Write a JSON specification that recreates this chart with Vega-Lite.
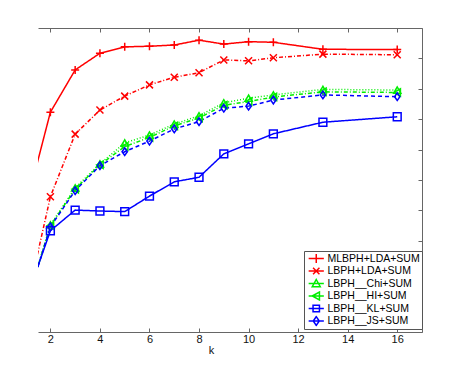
{
  "$schema": "https://vega.github.io/schema/vega-lite/v6.json",
  "width": 384,
  "height": 304,
  "autosize": {"type": "none"},
  "padding": {"left": 38, "top": 28, "right": 52, "bottom": 41},
  "background": "white",
  "config": {"view": {"stroke": null}, "font": "Liberation Sans"},
  "datasets": {
    "d": [
      {"s": "MLBPH+LDA+SUM", "k": 1, "v": 40.8}, {"s": "MLBPH+LDA+SUM", "k": 2, "v": 72.3}, {"s": "MLBPH+LDA+SUM", "k": 3, "v": 86.2}, {"s": "MLBPH+LDA+SUM", "k": 4, "v": 91.7}, {"s": "MLBPH+LDA+SUM", "k": 5, "v": 93.8}, {"s": "MLBPH+LDA+SUM", "k": 6, "v": 94.0}, {"s": "MLBPH+LDA+SUM", "k": 7, "v": 94.4}, {"s": "MLBPH+LDA+SUM", "k": 8, "v": 96.0}, {"s": "MLBPH+LDA+SUM", "k": 9, "v": 94.7}, {"s": "MLBPH+LDA+SUM", "k": 10, "v": 95.5}, {"s": "MLBPH+LDA+SUM", "k": 11, "v": 95.3}, {"s": "MLBPH+LDA+SUM", "k": 13, "v": 93.0}, {"s": "MLBPH+LDA+SUM", "k": 16, "v": 92.9},
      {"s": "LBPH+LDA+SUM", "k": 1, "v": 8.2}, {"s": "LBPH+LDA+SUM", "k": 2, "v": 44.5}, {"s": "LBPH+LDA+SUM", "k": 3, "v": 65.1}, {"s": "LBPH+LDA+SUM", "k": 4, "v": 73.0}, {"s": "LBPH+LDA+SUM", "k": 5, "v": 77.6}, {"s": "LBPH+LDA+SUM", "k": 6, "v": 81.3}, {"s": "LBPH+LDA+SUM", "k": 7, "v": 83.8}, {"s": "LBPH+LDA+SUM", "k": 8, "v": 85.3}, {"s": "LBPH+LDA+SUM", "k": 9, "v": 89.5}, {"s": "LBPH+LDA+SUM", "k": 10, "v": 89.2}, {"s": "LBPH+LDA+SUM", "k": 11, "v": 90.2}, {"s": "LBPH+LDA+SUM", "k": 13, "v": 91.4}, {"s": "LBPH+LDA+SUM", "k": 16, "v": 91.2},
      {"s": "LBPH__Chi+SUM", "k": 1, "v": 8.2}, {"s": "LBPH__Chi+SUM", "k": 2, "v": 35.2}, {"s": "LBPH__Chi+SUM", "k": 3, "v": 47.4}, {"s": "LBPH__Chi+SUM", "k": 4, "v": 55.3}, {"s": "LBPH__Chi+SUM", "k": 5, "v": 62.2}, {"s": "LBPH__Chi+SUM", "k": 6, "v": 64.8}, {"s": "LBPH__Chi+SUM", "k": 7, "v": 68.4}, {"s": "LBPH__Chi+SUM", "k": 8, "v": 71.1}, {"s": "LBPH__Chi+SUM", "k": 9, "v": 75.4}, {"s": "LBPH__Chi+SUM", "k": 10, "v": 76.9}, {"s": "LBPH__Chi+SUM", "k": 11, "v": 78.0}, {"s": "LBPH__Chi+SUM", "k": 13, "v": 79.8}, {"s": "LBPH__Chi+SUM", "k": 16, "v": 79.6},
      {"s": "LBPH__HI+SUM", "k": 1, "v": 8.3}, {"s": "LBPH__HI+SUM", "k": 2, "v": 35.0}, {"s": "LBPH__HI+SUM", "k": 3, "v": 47.0}, {"s": "LBPH__HI+SUM", "k": 4, "v": 55.0}, {"s": "LBPH__HI+SUM", "k": 5, "v": 61.0}, {"s": "LBPH__HI+SUM", "k": 6, "v": 64.0}, {"s": "LBPH__HI+SUM", "k": 7, "v": 67.8}, {"s": "LBPH__HI+SUM", "k": 8, "v": 70.4}, {"s": "LBPH__HI+SUM", "k": 9, "v": 74.6}, {"s": "LBPH__HI+SUM", "k": 10, "v": 75.8}, {"s": "LBPH__HI+SUM", "k": 11, "v": 77.3}, {"s": "LBPH__HI+SUM", "k": 13, "v": 79.0}, {"s": "LBPH__HI+SUM", "k": 16, "v": 78.8},
      {"s": "LBPH__KL+SUM", "k": 1, "v": 10.1}, {"s": "LBPH__KL+SUM", "k": 2, "v": 33.3}, {"s": "LBPH__KL+SUM", "k": 3, "v": 40.1}, {"s": "LBPH__KL+SUM", "k": 4, "v": 39.8}, {"s": "LBPH__KL+SUM", "k": 5, "v": 39.6}, {"s": "LBPH__KL+SUM", "k": 6, "v": 44.7}, {"s": "LBPH__KL+SUM", "k": 7, "v": 49.4}, {"s": "LBPH__KL+SUM", "k": 8, "v": 50.9}, {"s": "LBPH__KL+SUM", "k": 9, "v": 58.6}, {"s": "LBPH__KL+SUM", "k": 10, "v": 61.9}, {"s": "LBPH__KL+SUM", "k": 11, "v": 65.2}, {"s": "LBPH__KL+SUM", "k": 13, "v": 69.0}, {"s": "LBPH__KL+SUM", "k": 16, "v": 70.8},
      {"s": "LBPH__JS+SUM", "k": 1, "v": 8.3}, {"s": "LBPH__JS+SUM", "k": 2, "v": 34.6}, {"s": "LBPH__JS+SUM", "k": 3, "v": 46.5}, {"s": "LBPH__JS+SUM", "k": 4, "v": 54.7}, {"s": "LBPH__JS+SUM", "k": 5, "v": 59.3}, {"s": "LBPH__JS+SUM", "k": 6, "v": 62.8}, {"s": "LBPH__JS+SUM", "k": 7, "v": 66.8}, {"s": "LBPH__JS+SUM", "k": 8, "v": 69.2}, {"s": "LBPH__JS+SUM", "k": 9, "v": 73.6}, {"s": "LBPH__JS+SUM", "k": 10, "v": 74.3}, {"s": "LBPH__JS+SUM", "k": 11, "v": 76.3}, {"s": "LBPH__JS+SUM", "k": 13, "v": 78.0}, {"s": "LBPH__JS+SUM", "k": 16, "v": 77.4}
    ]
  },
  "data": {"name": "d"},
  "encoding": {
    "color": {
      "field": "s", "type": "nominal",
      "scale": {
        "domain": ["MLBPH+LDA+SUM", "LBPH+LDA+SUM", "LBPH__Chi+SUM", "LBPH__HI+SUM", "LBPH__KL+SUM", "LBPH__JS+SUM"],
        "range": ["#ff0000", "#ff0000", "#00ee00", "#00ee00", "#0000ff", "#0000ff"]
      },
      "legend": {
        "title": null,
        "orient": "none",
        "legendX": 266,
        "legendY": 223,
        "padding": 2,
        "symbolOffset": 5,
        "labelOffset": 6,
        "symbolSize": 64,
        "symbolStrokeWidth": 1.5,
        "symbolDash": [],
        "labelFontSize": 10.5,
        "labelFont": "Liberation Sans",
        "labelColor": "#000000",
        "fillColor": "white",
        "strokeColor": "#555555",
        "clipHeight": 11,
        "rowPadding": 1.5,
        "encoding": {
          "symbols": {
            "shape": {"value": {"signal": "['M-1.9,0H1.9M0,-1.1V1.1','M-1.9,0H1.9M-0.8,-0.8L0.8,0.8M-0.8,0.8L0.8,-0.8','M-1.9,0H1.9M0,-1L1,0.8H-1Z','M-1.9,0H1.9M-1,0L0.8,-1V1Z','M-1.9,0H1.9M-0.8,-0.8H0.8V0.8H-0.8Z','M-1.9,0H1.9M0,-1.1L0.75,0L0,1.1L-0.75,0Z'][indexof(['MLBPH+LDA+SUM','LBPH+LDA+SUM','LBPH__Chi+SUM','LBPH__HI+SUM','LBPH__KL+SUM','LBPH__JS+SUM'], datum.value)]"}},
            "fill": {"value": "transparent"},
            "strokeWidth": {"value": 1.5},
            "size": {"value": 64},
            "opacity": {"value": 1}
          }
        }
      }
    }
  },
  "layer": [
    {
      "mark": {"type": "line", "clip": true, "strokeWidth": 1.5},
      "encoding": {
        "x": {
          "field": "k", "type": "quantitative",
          "scale": {"domain": [1.5, 17], "nice": false, "zero": false},
          "axis": {
            "orient": "bottom", "values": [2, 4, 6, 8, 10, 12, 14, 16], "grid": false,
            "tickSize": -4, "labelPadding": 5, "labelFlush": false,
            "domainColor": "#666666", "tickColor": "#666666",
            "labelColor": "#111111", "labelFontSize": 11, "labelFont": "Liberation Sans",
            "title": "k", "titleFontWeight": "normal", "titleFontSize": 11, "titleColor": "#111111",
            "titleX": 173, "titleY": 21, "titleBaseline": "alphabetic"
          }
        },
        "y": {
          "field": "v", "type": "quantitative",
          "scale": {"domain": [0, 100], "nice": false},
          "axis": {
            "orient": "right", "values": [0, 10, 20, 30, 40, 50, 60, 70, 80, 90, 100], "grid": false,
            "tickSize": -4, "labels": false, "title": null,
            "domainColor": "#666666", "tickColor": "#666666"
          }
        },
        "strokeDash": {
          "field": "s", "type": "nominal",
          "scale": {
            "range": [[4, 2, 1, 2], [1, 2], [4, 2, 1, 2], [4, 3], [1, 0], [1, 0]]
          },
          "legend": null
        }
      }
    },
    {
      "mark": {"type": "point", "clip": true, "filled": false, "strokeWidth": 1.5, "opacity": 1},
      "encoding": {
        "x": {
          "field": "k", "type": "quantitative",
          "scale": {"domain": [1.5, 17], "nice": false, "zero": false},
          "axis": {
            "orient": "top", "values": [2, 4, 6, 8, 10, 12, 14, 16], "grid": false,
            "tickSize": -4, "labels": false, "title": null,
            "domainColor": "#666666", "tickColor": "#666666"
          }
        },
        "y": {"field": "v", "type": "quantitative", "scale": {"domain": [0, 100], "nice": false}, "axis": null},
        "shape": {
          "field": "s", "type": "nominal",
          "scale": {
            "range": ["M-1,-1L1,1M-1,1L1,-1", "triangle-up", "triangle-left", "M0,-1L0.7,0L0,1L-0.7,0Z", "square", "M-1,0H1M0,-1V1"]
          },
          "legend": null
        },
        "size": {
          "field": "s", "type": "nominal",
          "scale": {
            "range": [49, 64, 64, 81, 49, 100]
          },
          "legend": null
        }
      }
    }
  ],
  "resolve": {"axis": {"x": "independent", "y": "independent"}}
}
